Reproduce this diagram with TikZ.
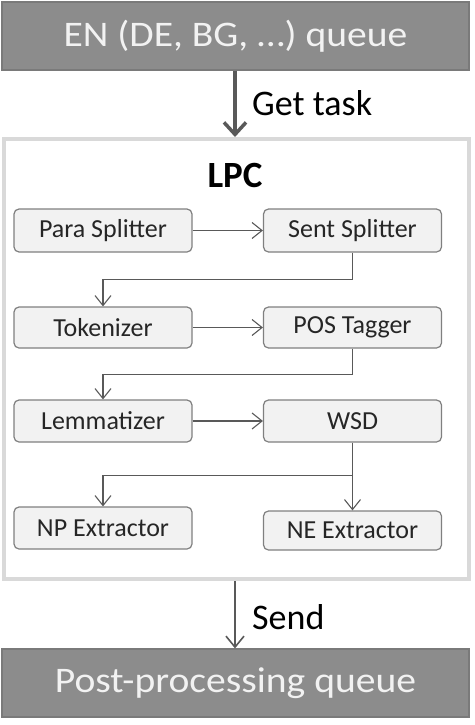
\documentclass[tikz,border=0pt]{standalone}
\usepackage{fontspec}
\setmainfont{Carlito}
\usetikzlibrary{arrows.meta,calc}
\definecolor{qfill}{HTML}{8C8C8C}
\definecolor{qdraw}{HTML}{7A7A7A}
\definecolor{qtext}{HTML}{F2F2F2}
\definecolor{cdraw}{HTML}{D9D9D9}
\definecolor{bfill}{HTML}{F2F2F2}
\definecolor{bdraw}{HTML}{808080}
\definecolor{ln}{HTML}{595959}
\tikzset{
  queue/.style={draw=qdraw, line width=1.2pt, fill=qfill, text=qtext, minimum width=467, minimum height=68, inner sep=0pt, font=\fontsize{36}{36}\selectfont},
  stage/.style={draw=bdraw, line width=1.2pt, fill=bfill, rounded corners=5pt, minimum width=178, inner sep=0pt, font=\fontsize{26}{26}\selectfont, text=black!85},
  conn/.style={draw=ln, line width=1.1pt, -{Straight Barb[length=10pt,width=16pt,line width=1.1pt]}},
  bigconn/.style={draw=ln, line width=3.5pt, -{Straight Barb[length=12pt,width=22pt,line width=3.5pt]}},
  midconn/.style={draw=ln, line width=1.6pt, -{Straight Barb[length=11pt,width=18pt,line width=1.6pt]}},
  lab/.style={anchor=west, inner sep=0pt, font=\fontsize{36}{36}\selectfont},
}
\begin{document}
\begin{tikzpicture}[x=1pt,y=-1pt]
\useasboundingbox (0,0) rectangle (474,725);
\fill[white] (0,0) rectangle (474,725);
\node[queue] (enq) at (235.5,36) {\scalebox{1.1}[1]{EN (DE, BG, …) queue}};
\node[draw=cdraw, line width=4pt, fill=white, minimum width=465, minimum height=440, inner sep=0pt] (lpcbox) at (236.5,359) {};
\node[font=\bfseries\fontsize{37}{37}\selectfont, inner sep=0pt] (lpc) at (235,175) {LPC};
\node[stage, minimum height=43] (para) at (103,230.5) {Para Splitter};
\node[stage, minimum height=43] (sent) at (352.5,230.5) {Sent Splitter};
\node[stage, minimum height=41] (tok) at (103,327.5) {Tokenizer};
\node[stage, minimum height=41] (pos) at (352.5,327.5) {POS Tagger};
\node[stage, minimum height=42] (lem) at (103,421) {Lemmatizer};
\node[stage, minimum height=42] (wsd) at (352.5,421) {WSD};
\node[stage, minimum height=42] (np) at (103,528) {NP Extractor};
\node[stage, minimum height=39] (ne) at (352.5,530.5) {NE Extractor};
\node[queue] (ppq) at (235.5,683) {\scalebox{1.1}[1]{Post-processing queue}};
\draw[bigconn] (enq.south -| lpc) -- (lpcbox.north -| lpc);
\node[lab] (gt) at (252,103) {Get task};
\draw[conn] (para) -- (sent);
\draw[conn] (tok) -- (pos);
\draw[conn] (lem) -- (wsd);
\draw[conn] (sent.south) -- ++(0,27) -| (tok.north);
\draw[conn] (pos.south) -- ++(0,26) -| (lem.north);
\draw[conn] (wsd.south) -- ++(0,33) -| (np.north);
\draw[conn] (wsd.south) -- (ne.north);
\draw[midconn] (lpcbox.south -| lpc) -- (ppq.north -| lpc);
\node[lab] (snd) at (252,617) {Send};
\end{tikzpicture}
\end{document}
